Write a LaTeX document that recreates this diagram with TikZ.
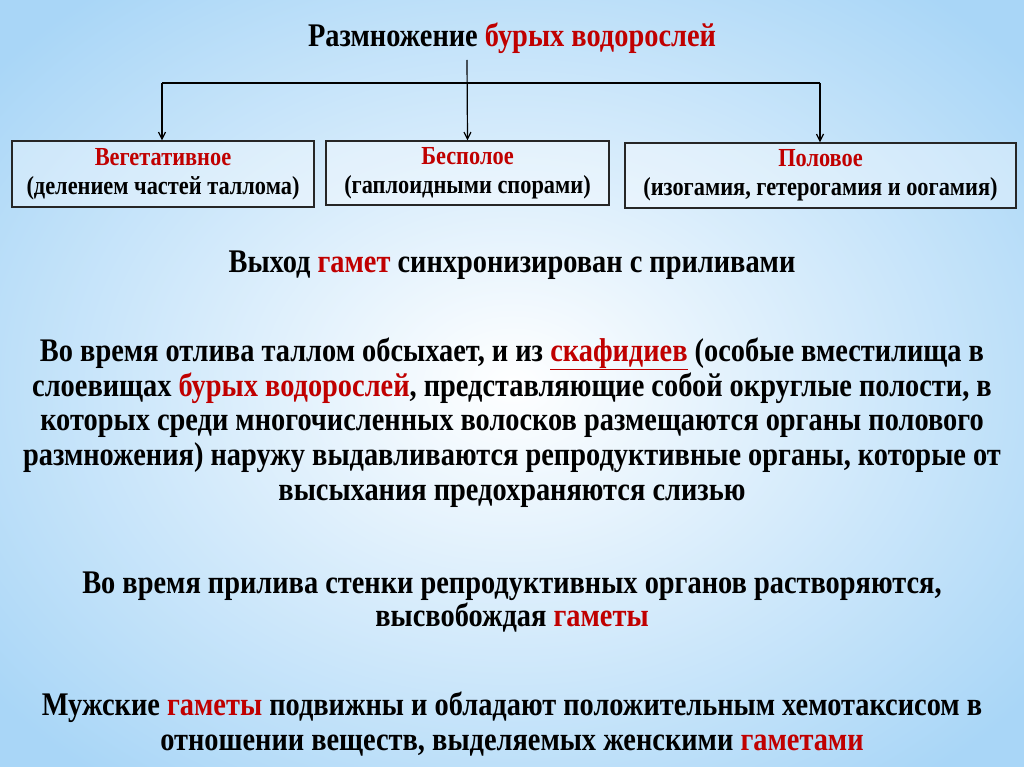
\documentclass[tikz,border=0pt]{standalone}
\usepackage{fontspec}
\setmainfont{Liberation Serif}[FakeStretch=0.86]
\usetikzlibrary{arrows.meta}
\definecolor{rd}{HTML}{C00000}
\definecolor{edge}{HTML}{A9D6F7}
\newcommand{\R}[1]{\textcolor{rd}{#1}}
\begin{document}
\begin{tikzpicture}[x=1pt,y=-1pt,
  box/.style={draw=black!85,line width=1.3pt,fill=white,fill opacity=0.35,text opacity=1,align=center,font=\bfseries\fontsize{26}{29}\selectfont,inner sep=0pt},
  ln/.style={font=\bfseries\fontsize{33}{35}\selectfont,inner sep=0pt,anchor=base},
  arr/.style={-{Straight Barb[length=7pt,width=7pt]},line width=1.2pt}]
\useasboundingbox (0,0) rectangle (1024,767);
\shade[inner color=white,outer color=edge] (-150,-120) rectangle (1174,887);
\node[ln] (t) at (512,47) {Размножение \R{бурых водорослей}};
\node[box,minimum width=302,minimum height=66] (b1) at (163,174) {\R{Вегетативное}\\(делением частей таллома)};
\node[box,minimum width=283,minimum height=64] (b2) at (467.5,173) {\R{Бесполое}\\(гаплоидными спорами)};
\node[box,minimum width=391,minimum height=65] (b3) at (820.5,175.5) {\R{Половое}\\(изогамия, гетерогамия и оогамия)};
\coordinate (s) at (467,60);
\coordinate (hl) at (162,83);
\coordinate (hr) at (820,83);
\draw[line width=1.2pt] (hl) -- (hr);
\draw[arr] (s) -- (b2.north);
\draw[arr] (hl) -- (hl|-b1.north);
\draw[arr] (hr) -- (hr|-b3.north);
\node[ln] (l0) at (512,272) {Выход \R{гамет} синхронизирован с приливами};
\node[ln] (p1) at (512,361) {Во время отлива таллом обсыхает, и из \R{\underline{скафидиев}} (особые вместилища в};
\node[ln] (p2) at (512,396) {слоевищах \R{бурых водорослей}, представляющие собой округлые полости, в};
\node[ln] (p3) at (512,430) {которых среди многочисленных волосков размещаются органы полового};
\node[ln] (p4) at (512,465) {размножения) наружу выдавливаются репродуктивные органы, которые от};
\node[ln] (p5) at (512,500) {высыхания предохраняются слизью};
\node[ln] (q1) at (512,593) {Во время прилива стенки репродуктивных органов растворяются,};
\node[ln] (q2) at (512,626) {высвобождая \R{гаметы}};
\node[ln] (m1) at (512,715) {Мужские \R{гаметы} подвижны и обладают положительным хемотаксисом в};
\node[ln] (m2) at (512,750) {отношении веществ, выделяемых женскими \R{гаметами}};
\end{tikzpicture}
\end{document}
